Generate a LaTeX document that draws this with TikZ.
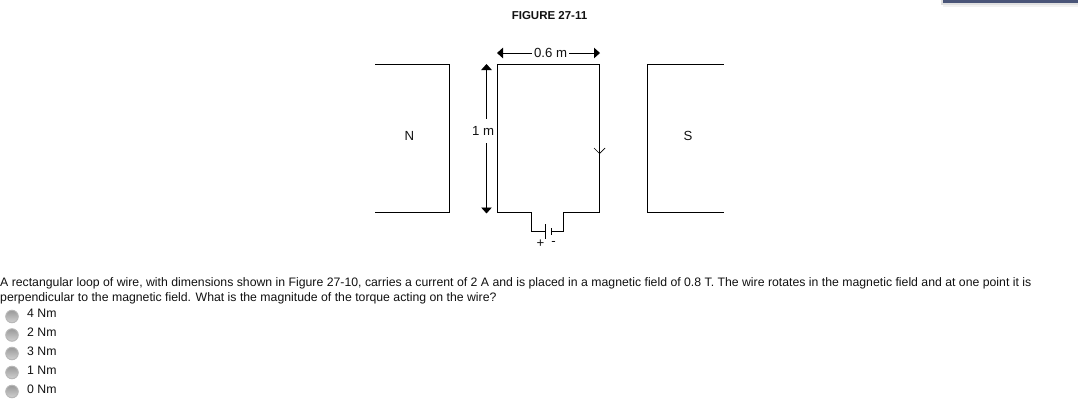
\documentclass[tikz,border=0pt]{standalone}
\usepackage{fontspec}
\setmainfont{Liberation Sans}
\usetikzlibrary{arrows.meta,shadows}
\definecolor{ink}{HTML}{111111}
\definecolor{barblue}{HTML}{4A5578}
\tikzset{
  wire/.style={draw=black,line width=0.9pt},
  dim/.style={draw=black,line width=0.9pt,-{Triangle[width=10.5pt,length=6pt]}},
  lbl/.style={inner sep=0pt,text=ink,font=\fontsize{12.27}{14}\selectfont},
  figlbl/.style={inner sep=0pt,text=ink,font=\fontsize{13.2}{15}\selectfont},
  para/.style={lbl,anchor=base west},
  choice/.style={lbl,anchor=base west},
  radio/.style={circle,minimum size=12.5pt,inner sep=0pt,draw=black!28,line width=1pt,
    top color=black!40,bottom color=black!18},
}
\begin{document}
\begin{tikzpicture}[x=1pt,y=-1pt]
\useasboundingbox (0,0) rectangle (1078,402);
% window edge, top right
\fill[black!12] (941,0) rectangle (1078,5);
\fill[black!5] (943,5) rectangle (1078,7);
\fill[barblue] (943,0) rectangle (1078,3);
% title
\node[lbl,font=\bfseries\fontsize{11.5}{13}\selectfont] (title) at (549.5,15.5) {FIGURE 27-11};
% magnets
\coordinate (na) at (375,64.5); \coordinate (nb) at (449.5,64.5);
\coordinate (nc) at (449.5,212.5); \coordinate (nd) at (375,212.5);
\draw[wire] (na) -- (nb) -- (nc) -- (nd);
\node[figlbl] (N) at (409.5,136) {N};
\coordinate (sa) at (723.5,64.5); \coordinate (sb) at (647.5,64.5);
\coordinate (sc) at (647.5,212.5); \coordinate (sd) at (723.5,212.5);
\draw[wire] (sa) -- (sb) -- (sc) -- (sd);
\node[figlbl] (S) at (688,136) {S};
% loop
\coordinate (la) at (531.5,212.5); \coordinate (lb) at (497.5,212.5);
\coordinate (lc) at (497.5,64.5); \coordinate (ld) at (599.5,64.5);
\coordinate (le) at (599.5,212.5); \coordinate (lf) at (563.5,212.5);
\coordinate (lg) at (563.5,231.5); \coordinate (lh) at (551.5,231.5);
\coordinate (li) at (531.5,231.5); \coordinate (lj) at (545.5,231.5);
\draw[wire] (lj) -- (li) -- (la) -- (lb) -- (lc) -- (ld) -- (le) -- (lf) -- (lg) -- (lh);
% battery plates
\coordinate (p1) at (545.5,224); \coordinate (p2) at (545.5,238.5);
\coordinate (q1) at (551.5,228); \coordinate (q2) at (551.5,235);
\draw[wire] (p1) -- (p2);
\draw[wire] (q1) -- (q2);
\node[figlbl] (plus) at (540.5,243.5) {+};
\node[figlbl] (minus) at (553.5,243.5) {-};
% current arrow
\coordinate (ca) at (594,148); \coordinate (cb) at (599.5,153.5); \coordinate (cc) at (605,148);
\draw[wire,line width=0.7pt] (ca) -- (cb) -- (cc);
% dimension 0.6 m
\node[figlbl] (w) at (550.5,53) {0.6 m};
\coordinate (wl) at (497,53); \coordinate (wr) at (600,53);
\draw[dim] (w.west) ++(-2,0) -- (wl);
\draw[dim] (w.east) ++(2,0) -- (wr);
% dimension 1 m
\node[figlbl] (h) at (483,130.5) {1 m};
\coordinate (ht) at (486.5,64); \coordinate (hb) at (486.5,213.5);
\coordinate (hu) at (486.5,118.5); \coordinate (hd) at (486.5,143);
\draw[dim] (hu) -- (ht);
\draw[dim] (hd) -- (hb);
% question
\node[para] (q1t) at (0,286) {A rectangular loop of wire, with dimensions shown in Figure 27-10, carries a current of 2 A and is placed in a magnetic field of 0.8 T. The wire rotates in the magnetic field and at one point it is};
\node[para] (q2t) at (0,301) {perpendicular to the magnetic field. What is the magnitude of the torque acting on the wire?};
% choices
\node[radio] (r1) at (12,316.5) {}; \node[choice] (c1) at (27,317) {4 Nm};
\node[radio] (r2) at (12,335) {}; \node[choice] (c2) at (27,336) {2 Nm};
\node[radio] (r3) at (12,353.5) {}; \node[choice] (c3) at (27,355) {3 Nm};
\node[radio] (r4) at (12,372.5) {}; \node[choice] (c4) at (27,374) {1 Nm};
\node[radio] (r5) at (12,391.5) {}; \node[choice] (c5) at (27,393) {0 Nm};
\end{tikzpicture}
\end{document}
